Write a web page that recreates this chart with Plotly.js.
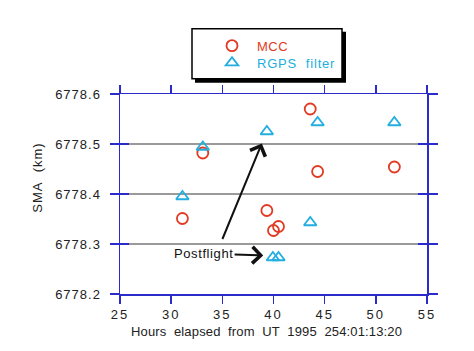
<!DOCTYPE html>
<html>
<head>
<meta charset="utf-8">
<script src="https://cdn.plot.ly/plotly-3.0.1.min.js"></script>
<style>html,body{margin:0;padding:0;background:#fff;}#chart{width:474px;height:351px;}</style>
</head>
<body>
<div id="chart"></div>
<script>
// Data
var mccHours = [43.59, 33.09, 44.31, 51.81, 31.10, 39.35, 40.49, 40.00];
var mccSMA   = [6778.570, 6778.482, 6778.445, 6778.454, 6778.351, 6778.367, 6778.335, 6778.327];
var rgpsHours = [33.09, 39.35, 44.31, 51.81, 31.10, 43.59, 39.94, 40.49];
var rgpsSMA   = [6778.494, 6778.525, 6778.543, 6778.543, 6778.395, 6778.343, 6778.273, 6778.273];
var xTicks = [25, 30, 35, 40, 45, 50, 55];
var yTicks = [6778.2, 6778.3, 6778.4, 6778.5, 6778.6];
var seriesNames = ['MCC', 'RGPS filter'];
var xTitle = 'Hours elapsed from UT 1995 254:01:13:20';
var yTitle = 'SMA (km)';
// annotation anchor points (head, tail) in data units
var arrowHead = [38.86, 6778.501];
var arrowTail = [34.95, 6778.307];
var labelHead = [39.19, 6778.277];
var labelPos  = [33.17, 6778.281];

var RED = '#e23a22', CYAN = '#22aee0', AXIS = '#2b2bcc';
var FONT = 'Liberation Sans, Arial, sans-serif';
function sp(t, ls){ return '<span style="letter-spacing:' + ls + 'px">' + t + '</span>'; }
function wide(t){ return t.split(' ').join('\u00a0 '); }

var traces = [
  {x: mccHours, y: mccSMA, type: 'scatter', mode: 'markers', name: sp(seriesNames[0], 0.5),
   marker: {symbol: 'circle-open', size: 11, color: RED, line: {width: 1.8, color: RED}}, cliponaxis: false, legend: 'legend'},
  {x: rgpsHours, y: rgpsSMA, type: 'scatter', mode: 'markers', name: sp(seriesNames[1].replace(' ', '\u00a0\u00a0'), 0.8),
   marker: {symbol: 'triangle-up-open', size: 11, color: CYAN, line: {width: 1.8, color: CYAN}}, cliponaxis: false, legend: 'legend2'},
  {x: [], y: [], xaxis: 'x', yaxis: 'y2', showlegend: false, hoverinfo: 'skip'}
];

var xr = [xTicks[0], xTicks[xTicks.length - 1]];
var yr = [yTicks[0], yTicks[yTicks.length - 1]];
function px(p){ return (p - 120) / 307; }
function py(p){ return (294.3 - p) / 200; }

var legCommon = {xanchor: 'left', yanchor: 'middle', bgcolor: 'rgba(0,0,0,0)', borderwidth: 0, itemwidth: 40};
var layout = {
  width: 474, height: 351,
  margin: {l: 120, r: 47, t: 94, b: 57},
  paper_bgcolor: '#fff', plot_bgcolor: '#fff',
  font: {family: FONT, color: '#222', size: 13},
  showlegend: true,
  legend: Object.assign({x: px(207), y: py(46)}, legCommon, {font: {size: 13, family: FONT, color: RED}}),
  legend2: Object.assign({x: px(207), y: py(63)}, legCommon, {font: {size: 13, family: FONT, color: CYAN}}),
  xaxis: {range: xr, tickvals: xTicks, ticktext: xTicks.map(function(v){ return sp(v, 2); }),
          ticks: 'outside', ticklen: 8, tickwidth: 1.5, tickcolor: AXIS,
          showline: true, linecolor: AXIS, linewidth: 1.5, mirror: 'ticks', showgrid: false, zeroline: false,
          tickfont: {size: 13, color: '#222'}, ticklabelstandoff: 0},
  yaxis: {range: yr, tickvals: yTicks, ticktext: yTicks.map(function(v){ return sp(v.toFixed(1), 1.0); }),
          ticks: 'outside', ticklen: 9, tickwidth: 1.5, tickcolor: AXIS,
          showline: true, linecolor: AXIS, linewidth: 1.5, mirror: 'ticks', showgrid: true, gridcolor: '#9a9a9a', gridwidth: 1.5,
          zeroline: false, tickfont: {size: 13, color: '#222'}, ticklabelstandoff: 6},
  yaxis2: {overlaying: 'y', range: yr, tickvals: yTicks, ticks: 'inside', ticklen: 9, tickwidth: 1.5, tickcolor: AXIS,
           showticklabels: false, showline: false, mirror: 'ticks', showgrid: false, zeroline: false},
  shapes: [
    {type: 'rect', xref: 'paper', yref: 'paper', x0: px(195), x1: px(346), y0: py(83), y1: py(32),
     fillcolor: '#000', line: {width: 0}, layer: 'above'},
    {type: 'rect', xref: 'paper', yref: 'paper', x0: px(192), x1: px(342), y0: py(79), y1: py(29),
     fillcolor: '#fff', line: {width: 1.5, color: '#000'}, layer: 'above'}
  ],
  annotations: [
    {x: arrowHead[0], y: arrowHead[1], ax: arrowTail[0], ay: arrowTail[1], axref: 'x', ayref: 'y',
     xref: 'x', yref: 'y', text: '', showarrow: true, arrowhead: 4, arrowsize: 1.6, arrowwidth: 2, arrowcolor: '#111'},
    {x: labelHead[0], y: labelHead[1], ax: labelPos[0], ay: labelPos[1], axref: 'x', ayref: 'y',
     xref: 'x', yref: 'y', text: sp('Postflight', 0.6), font: {size: 13, color: '#111'}, showarrow: true,
     arrowhead: 4, arrowsize: 1.6, arrowwidth: 2, arrowcolor: '#111', standoff: 2},
    {xref: 'paper', yref: 'paper', x: px(38), y: py(178), xanchor: 'center', yanchor: 'middle',
     text: sp(wide(yTitle), 1), textangle: -90, showarrow: false, font: {size: 13, color: '#222'}},
    {xref: 'paper', yref: 'paper', x: px(266.5), y: py(332), xanchor: 'center', yanchor: 'middle',
     text: sp(wide(xTitle), 0.15), showarrow: false, font: {size: 13, color: '#222'}}
  ]
};

Plotly.newPlot('chart', traces, layout, {staticPlot: true, displayModeBar: false});
</script>
</body>
</html>
